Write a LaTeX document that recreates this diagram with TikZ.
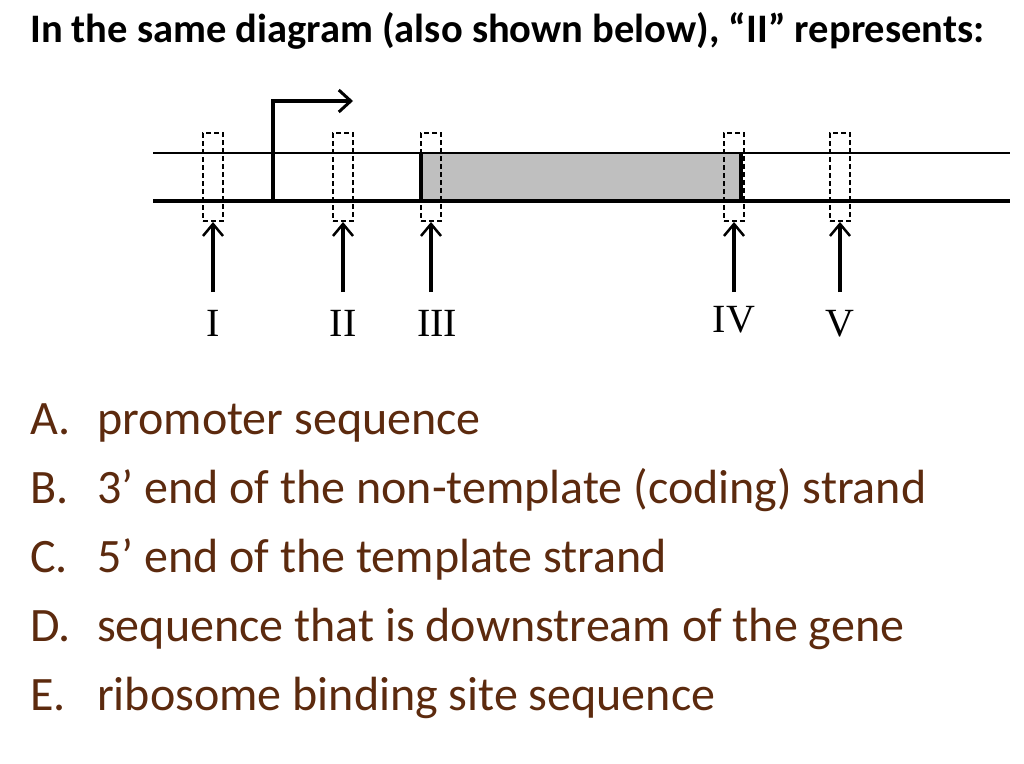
\documentclass[tikz,border=0pt]{standalone}
\usepackage{fontspec}
\setmainfont{Liberation Serif}
\newfontfamily\carfont{Carlito}
\usetikzlibrary{arrows.meta}
\definecolor{brn}{HTML}{5C2A0E}
\begin{document}
\begin{tikzpicture}[x=1pt,y=-1pt,
  dbox/.style={draw,dashed,line width=2pt,dash pattern=on 5pt off 3pt},
  uparr/.style={line width=3.5pt,-{Straight Barb[length=12pt,width=20pt,line width=2.5pt]}},
  rlab/.style={font=\fontsize{40}{40}\selectfont,anchor=north,inner sep=0},
  opt/.style={font=\carfont\fontsize{48}{48}\selectfont,text=brn,anchor=base west,inner sep=0}]
\useasboundingbox (0,0) rectangle (1024,763);
\node[font=\carfont\bfseries\fontsize{40.5}{40}\selectfont,anchor=base west,inner sep=0] (title) at (30,42) {In the same diagram (also shown below), “II” represents:};
\fill[gray!50] (421,153) rectangle (742,201);
\draw[line width=4pt] (421,153) -- (421,201);
\draw[line width=4pt] (741,153) -- (741,201);
\draw[line width=2pt] (153,153) -- (1010,153);
\draw[line width=3.5pt] (153,201) -- (1010,201);
\draw[line width=4pt,-{Straight Barb[length=12pt,width=22pt,line width=3pt]}] (273,202) -- (273,101) -- (353,101);
\foreach \n/\x in {a/213,b/343,c/431,d/734,e/840}{
  \node[dbox,minimum width=20pt,minimum height=88pt,inner sep=0] (box\n) at (\x,177) {};
  \coordinate (s\n) at (\x,292);
  \draw[uparr] (s\n) -- (box\n.south);
}
\node[rlab] (l1) at (213,310) {I};
\node[rlab] (l2) at (343,310) {II};
\node[rlab] (l3) at (437,310) {III};
\node[rlab] (l4) at (734,306) {IV};
\node[rlab] (l5) at (840,310) {V};
\foreach \l/\t/\y in {A/promoter sequence/434,B/3’ end of the non-template (coding) strand/503,C/5’ end of the template strand/572,D/sequence that is downstream of the gene/641,E/ribosome binding site sequence/710}{
  \node[opt] (o\l) at (30,\y) {\l.};
  \node[opt] (t\l) at (97,\y) {\t};
}
\end{tikzpicture}
\end{document}
